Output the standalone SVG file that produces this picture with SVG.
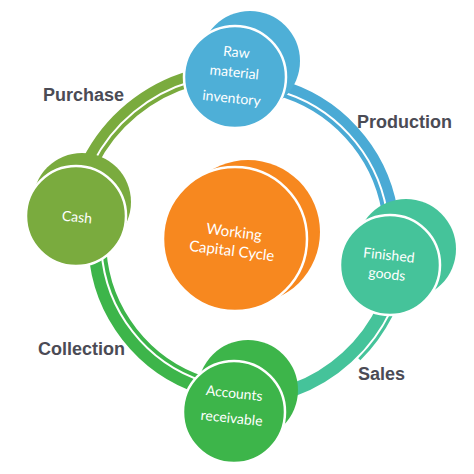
<svg xmlns="http://www.w3.org/2000/svg" width="474" height="474" viewBox="0 0 474 474">
<style>
.lbl{font-family:"Liberation Sans",Arial,sans-serif;font-weight:bold;font-size:18px;fill:#4b4b55}
.nt{font-family:Lato,"Open Sans",sans-serif;font-size:14px;fill:#ffffff;text-anchor:middle}
.front{stroke:#ffffff;stroke-width:2.5}
.arc{fill:none}
.gap{fill:none;stroke:#ffffff;stroke-width:2}
</style>
<rect width="474" height="474" fill="#ffffff"/>
<g id="connectors">
  <path class="arc" stroke="#7aab3e" stroke-width="16" d="M 90.0 162.1 A 165 165 0 0 1 191.5 78.4"/>
  <path class="gap" d="M 92.7 163.5 A 162 162 0 0 1 192.4 81.3"/>
  <path class="arc" stroke="#4aaad5" stroke-width="16" d="M 277.1 87.3 A 155 155 0 0 1 389.6 210.1"/>
  <path class="gap" d="M 276.3 90.2 A 152 152 0 0 1 386.7 210.6"/>
  <path class="arc" stroke="#45c39a" stroke-width="13" d="M 384.7 305.9 A 163 163 0 0 1 292.7 390.2"/>
  <path class="arc" stroke="#45c39a" stroke-width="3" d="M 391.1 315.5 A 173 173 0 0 1 359.3 359.3"/>
  <path class="arc" stroke="#3db54a" stroke-width="18" d="M 202.7 385.5 A 153 153 0 0 1 97.4 250.7"/>
  <path class="gap" d="M 204.0 381.7 A 149 149 0 0 1 101.4 250.4"/>
  <text class="lbl" x="43" y="101">Purchase</text>
  <text class="lbl" x="357" y="128">Production</text>
  <text class="lbl" x="38" y="355">Collection</text>
  <text class="lbl" x="358" y="380">Sales</text>
</g>
<g id="raw-material">
  <circle cx="250" cy="61" r="50" fill="#4eafd7"/>
  <circle class="front" cx="235" cy="77" r="51" fill="#4eafd7"/>
  <g transform="rotate(6 234 75)">
    <text class="nt" x="234" y="57">Raw</text>
    <text class="nt" x="234" y="77">material</text>
    <text class="nt" x="234" y="103">inventory</text>
  </g>
</g>
<g id="finished-goods">
  <circle cx="406" cy="249" r="50" fill="#45c39a"/>
  <circle class="front" cx="390" cy="265" r="50" fill="#45c39a"/>
  <g transform="rotate(6 388 264)">
    <text class="nt" x="388" y="260">Finished</text>
    <text class="nt" x="388" y="279">goods</text>
  </g>
</g>
<g id="accounts-receivable">
  <circle cx="248" cy="390" r="50" fill="#3db54a"/>
  <circle class="front" cx="234" cy="412" r="51" fill="#3db54a"/>
  <g transform="rotate(6 233 405)">
    <text class="nt" x="233" y="398">Accounts</text>
    <text class="nt" x="233" y="423">receivable</text>
  </g>
</g>
<g id="cash">
  <circle cx="82" cy="202" r="49" fill="#7aab3e"/>
  <circle class="front" cx="76" cy="216" r="50" fill="#7aab3e"/>
  <text class="nt" x="77" y="222" transform="rotate(6 77 217)">Cash</text>
</g>
<g id="working-capital-cycle">
  <circle cx="248" cy="232" r="72" fill="#f7881f"/>
  <circle class="front" cx="235" cy="239" r="72" fill="#f7881f"/>
  <g transform="rotate(7 233 241)">
    <text class="nt" x="233" y="237" style="font-size:15px">Working</text>
    <text class="nt" x="233" y="256" style="font-size:15px">Capital Cycle</text>
  </g>
</g>
</svg>
